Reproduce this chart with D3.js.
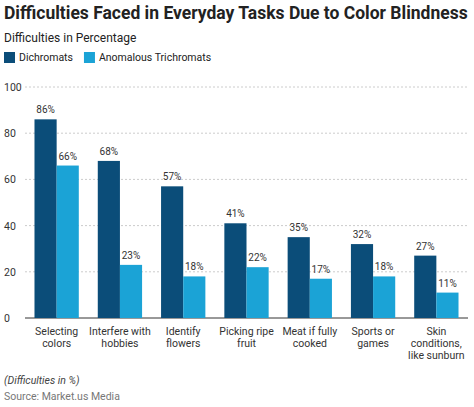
<!DOCTYPE html>
<html><head><meta charset="utf-8">
<script src="https://cdn.jsdelivr.net/npm/d3@7"></script>
<style>body{margin:0;background:#fff;font-family:Roboto,"Noto Sans",sans-serif}</style>
</head><body><svg id="c" width="474" height="407"></svg>
<script>
const categories=[["Selecting","colors"],["Interfere with","hobbies"],["Identify","flowers"],["Picking ripe","fruit"],["Meat if fully","cooked"],["Sports or","games"],["Skin","conditions,","like sunburn"]];
const dichromats=[86,68,57,41,35,32,27];
const anomalous=[66,23,18,22,17,18,11];
const yTicks=[0,20,40,60,80,100];
const seriesNames=["Dichromats","Anomalous Trichromats"];
const colors=["#0b4d79","#1ba3d6"];
const svg=d3.select("#c");
const x=d3.scaleBand().domain(d3.range(7)).range([25,468]).paddingInner(0.3).paddingOuter(0.15);
const y=d3.scaleLinear().domain([0,100]).range([318,87]);
svg.append("text").attr("x",4).attr("y",19).attr("font-size",17.5).attr("font-weight",700).attr("fill","#222").text("Difficulties Faced in Everyday Tasks Due to Color Blindness");
svg.append("text").attr("x",4).attr("y",42).attr("font-size",12).attr("fill","#222").text("Difficulties in Percentage");
let lx=4;
seriesNames.forEach((n,i)=>{svg.append("rect").attr("x",lx).attr("y",52).attr("width",11).attr("height",11).attr("fill",colors[i]);
 const t=svg.append("text").attr("x",lx+15).attr("y",61).attr("font-size",10.5).attr("fill","#222").text(n);lx+=t.node().getComputedTextLength()+26;});
yTicks.forEach(v=>{svg.append("line").attr("x1",25).attr("x2",468).attr("y1",y(v)).attr("y2",y(v)).attr("stroke","#ccc").attr("stroke-dasharray",v?"2,2":null).attr("stroke",v?"#ccc":"#333");
 svg.append("text").attr("x",4).attr("y",y(v)+4).attr("font-size",10.5).attr("fill","#333").text(v);});
const bw=x.bandwidth()/2;
[dichromats,anomalous].forEach((s,k)=>{
 svg.selectAll(null).data(s).join("rect").attr("x",(d,i)=>x(i)+k*bw).attr("width",bw).attr("y",d=>y(d)).attr("height",d=>y(0)-y(d)).attr("fill",colors[k]);
 svg.selectAll(null).data(s).join("text").attr("x",(d,i)=>x(i)+k*bw+bw/2).attr("y",d=>y(d)-6).attr("text-anchor","middle").attr("font-size",10).attr("fill","#333").text(d=>d+"%");
});
categories.forEach((c,i)=>{const t=svg.append("text").attr("text-anchor","middle").attr("font-size",10.5).attr("fill","#333");
 c.forEach((l,j)=>t.append("tspan").attr("x",x(i)+x.bandwidth()/2).attr("y",335+j*12).text(l));});
svg.append("text").attr("x",4).attr("y",384).attr("font-size",10.5).attr("font-style","italic").attr("fill","#444").text("(Difficulties in %)");
svg.append("text").attr("x",4).attr("y",400).attr("font-size",10.5).attr("fill","#777").text("Source: Market.us Media");
</script></body></html>
